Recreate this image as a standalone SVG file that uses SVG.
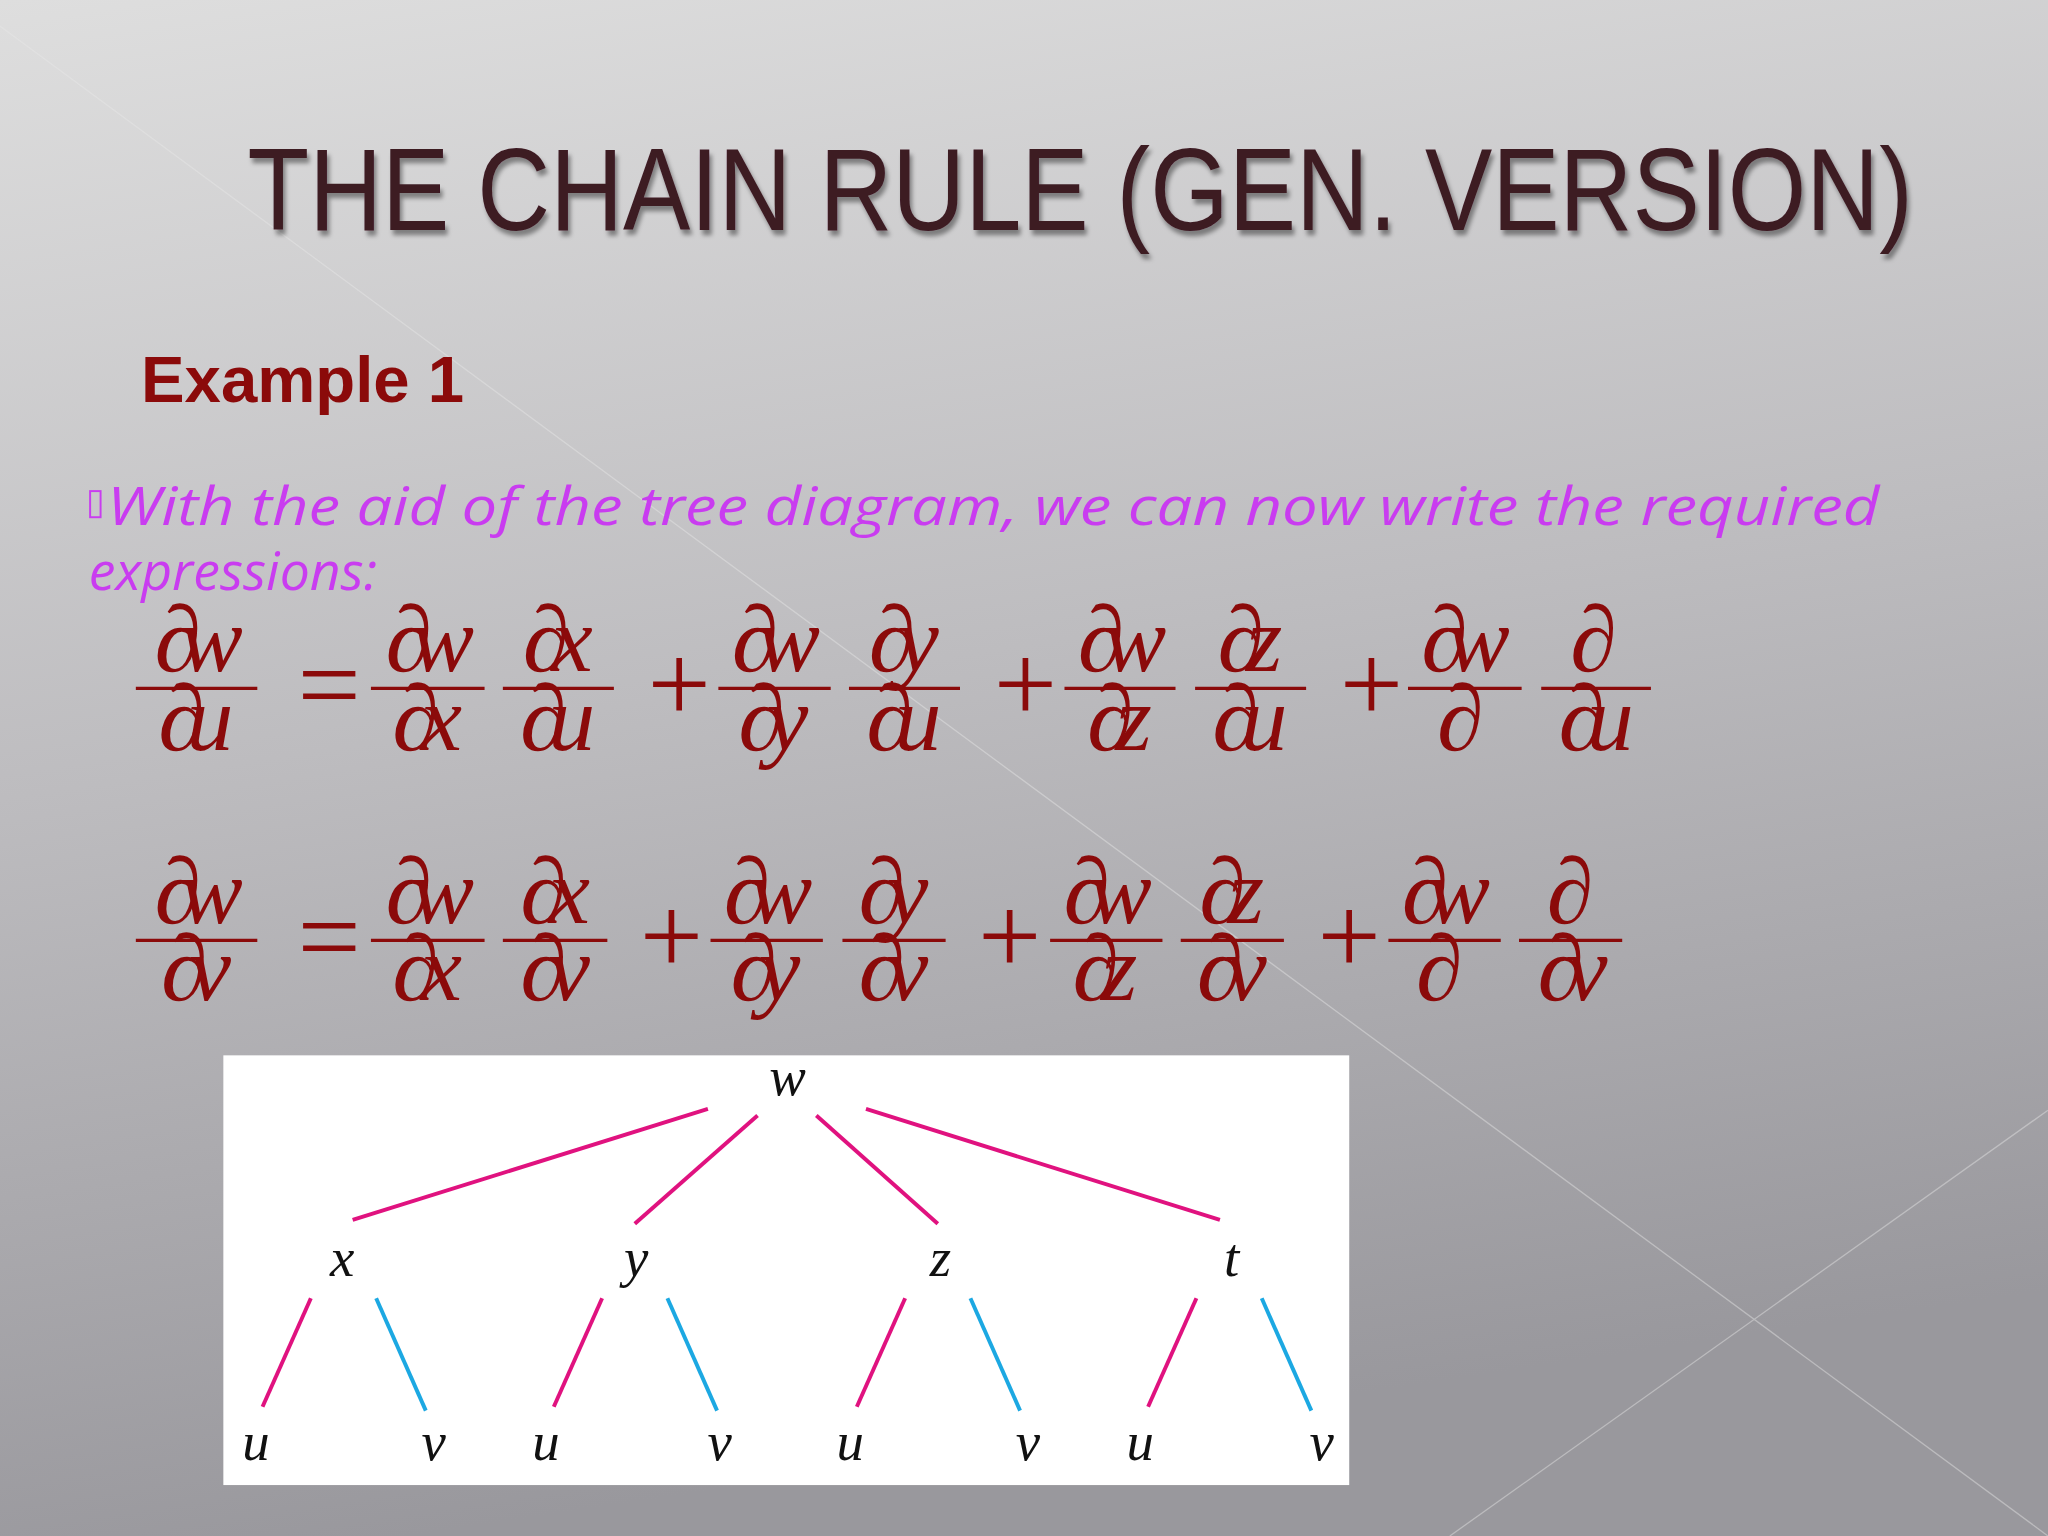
<svg xmlns="http://www.w3.org/2000/svg" width="2048" height="1536" viewBox="0 0 2048 1536">
<defs>
<linearGradient id="bg" x1="0" y1="0" x2="0.2" y2="1">
<stop offset="0" stop-color="#dedede"/><stop offset="0.5" stop-color="#bdbcbf"/><stop offset="1" stop-color="#99989d"/>
</linearGradient>
<filter id="sh" x="-5%" y="-20%" width="110%" height="150%"><feDropShadow dx="2" dy="4" stdDeviation="1.5" flood-color="#000" flood-opacity="0.4"/></filter>
</defs>
<style>
.eq{font-family:"Liberation Serif",serif;font-style:italic;font-size:72px;fill:#8b0a0a;text-anchor:middle}
.op{font-family:"Liberation Serif",serif;font-size:86px;fill:#8b0a0a;text-anchor:middle}
.fl{stroke:#8b0a0a;stroke-width:2.5}
.nd{font-family:"Liberation Serif",serif;font-style:italic;font-size:42px;fill:#111;text-anchor:middle}
.pk{stroke:#e0127f;stroke-width:3}
.bl{stroke:#1ca8e2;stroke-width:3}
</style>
<rect width="2048" height="1536" fill="url(#bg)"/>
<g transform="scale(1.30612)">
<g stroke="#e6e6e6" stroke-width="1" opacity="0.45" fill="none">
<line x1="0" y1="20" x2="1568" y2="1176"/>
<line x1="1110" y1="1176" x2="1568" y2="850"/>
</g>
<g id="title">
<text x="827" y="176" font-family="Liberation Sans,sans-serif" font-size="90" fill="#3d1a24" text-anchor="middle" textLength="1275" lengthAdjust="spacingAndGlyphs" filter="url(#sh)">THE CHAIN RULE (GEN. VERSION)</text>
</g>
<text id="example" x="108" y="308" font-family="Liberation Sans,sans-serif" font-weight="bold" font-size="50" fill="#8b0a0a">Example 1</text>
<g id="body" font-family="Open Sans,sans-serif" font-style="italic" font-size="41" fill="#c93cf0">
<rect x="69" y="376" width="8" height="20" fill="none" stroke="#c93cf0" stroke-width="1.5"/>
<text x="82" y="402" textLength="1357" lengthAdjust="spacingAndGlyphs">With the aid of the tree diagram, we can now write the required</text>
<text x="68" y="452">expressions:</text>
</g>
<g id="eq1">
<g class="fl"><line x1="104" y1="527" x2="197" y2="527"/><line x1="284" y1="527" x2="371" y2="527"/><line x1="385" y1="527" x2="470" y2="527"/><line x1="550" y1="527" x2="636" y2="527"/><line x1="650" y1="527" x2="735" y2="527"/><line x1="815" y1="527" x2="900" y2="527"/><line x1="915" y1="527" x2="1000" y2="527"/><line x1="1078" y1="527" x2="1165" y2="527"/><line x1="1180" y1="527" x2="1264" y2="527"/></g>
<text class="eq" x="152" y="514">∂<tspan dx="-16">w</tspan></text>
<text class="eq" x="150" y="574">∂<tspan dx="-14">u</tspan></text>
<text class="op" x="252" y="553">=</text>
<text class="eq" x="329" y="514">∂<tspan dx="-16">w</tspan></text>
<text class="eq" x="327" y="574">∂<tspan dx="-14">x</tspan></text>
<text class="eq" x="427" y="514">∂<tspan dx="-14">x</tspan></text>
<text class="eq" x="427" y="574">∂<tspan dx="-14">u</tspan></text>
<text class="op" x="520" y="553">+</text>
<text class="eq" x="594" y="514">∂<tspan dx="-16">w</tspan></text>
<text class="eq" x="592" y="574">∂<tspan dx="-14">y</tspan></text>
<text class="eq" x="692" y="514">∂<tspan dx="-14">y</tspan></text>
<text class="eq" x="692" y="574">∂<tspan dx="-14">u</tspan></text>
<text class="op" x="785" y="553">+</text>
<text class="eq" x="859" y="514">∂<tspan dx="-16">w</tspan></text>
<text class="eq" x="857" y="574">∂<tspan dx="-14">z</tspan></text>
<text class="eq" x="957" y="514">∂<tspan dx="-14">z</tspan></text>
<text class="eq" x="957" y="574">∂<tspan dx="-14">u</tspan></text>
<text class="op" x="1050" y="553">+</text>
<text class="eq" x="1122" y="514">∂<tspan dx="-16">w</tspan></text>
<text class="eq" x="1118" y="574">∂</text>
<text class="eq" x="1220" y="514">∂</text>
<text class="eq" x="1222" y="574">∂<tspan dx="-14">u</tspan></text>
</g>
<g id="eq2">
<g class="fl"><line x1="104" y1="720" x2="197" y2="720"/><line x1="284" y1="720" x2="371" y2="720"/><line x1="385" y1="720" x2="465" y2="720"/><line x1="544" y1="720" x2="630" y2="720"/><line x1="645" y1="720" x2="724" y2="720"/><line x1="804" y1="720" x2="890" y2="720"/><line x1="904" y1="720" x2="983" y2="720"/><line x1="1063" y1="720" x2="1149" y2="720"/><line x1="1163" y1="720" x2="1242" y2="720"/></g>
<text class="eq" x="152" y="707">∂<tspan dx="-16">w</tspan></text>
<text class="eq" x="150" y="766">∂<tspan dx="-14">v</tspan></text>
<text class="op" x="252" y="746">=</text>
<text class="eq" x="329" y="707">∂<tspan dx="-16">w</tspan></text>
<text class="eq" x="327" y="766">∂<tspan dx="-14">x</tspan></text>
<text class="eq" x="425" y="707">∂<tspan dx="-14">x</tspan></text>
<text class="eq" x="425" y="766">∂<tspan dx="-14">v</tspan></text>
<text class="op" x="514" y="746">+</text>
<text class="eq" x="588" y="707">∂<tspan dx="-16">w</tspan></text>
<text class="eq" x="586" y="766">∂<tspan dx="-14">y</tspan></text>
<text class="eq" x="684" y="707">∂<tspan dx="-14">y</tspan></text>
<text class="eq" x="684" y="766">∂<tspan dx="-14">v</tspan></text>
<text class="op" x="773" y="746">+</text>
<text class="eq" x="848" y="707">∂<tspan dx="-16">w</tspan></text>
<text class="eq" x="846" y="766">∂<tspan dx="-14">z</tspan></text>
<text class="eq" x="943" y="707">∂<tspan dx="-14">z</tspan></text>
<text class="eq" x="943" y="766">∂<tspan dx="-14">v</tspan></text>
<text class="op" x="1033" y="746">+</text>
<text class="eq" x="1107" y="707">∂<tspan dx="-16">w</tspan></text>
<text class="eq" x="1102" y="766">∂</text>
<text class="eq" x="1202" y="707">∂</text>
<text class="eq" x="1204" y="766">∂<tspan dx="-14">v</tspan></text>
</g>
<rect x="171" y="808" width="862" height="329" fill="#fff"/>
<g id="connectors">
<line class="pk" x1="542" y1="849" x2="270" y2="934"/>
<line class="pk" x1="580" y1="854" x2="486" y2="937"/>
<line class="pk" x1="625" y1="854" x2="718" y2="937"/>
<line class="pk" x1="663" y1="849" x2="934" y2="934"/>
<line class="pk" x1="238" y1="994" x2="201" y2="1077"/><line class="bl" x1="288" y1="994" x2="326" y2="1080"/>
<line class="pk" x1="461" y1="994" x2="424" y2="1077"/><line class="bl" x1="511" y1="994" x2="549" y2="1080"/>
<line class="pk" x1="693" y1="994" x2="656" y2="1077"/><line class="bl" x1="743" y1="994" x2="781" y2="1080"/>
<line class="pk" x1="916" y1="994" x2="879" y2="1077"/><line class="bl" x1="966" y1="994" x2="1004" y2="1080"/>
</g>
<g id="n-w"><text class="nd" x="603" y="838">w</text></g>
<g id="n-x"><text class="nd" x="262" y="977">x</text></g>
<g id="n-y"><text class="nd" x="487" y="977">y</text></g>
<g id="n-z"><text class="nd" x="720" y="977">z</text></g>
<g id="n-t"><text class="nd" x="943" y="977">t</text></g>
<g id="l1"><text class="nd" x="196" y="1118">u</text></g>
<g id="l2"><text class="nd" x="332" y="1118">v</text></g>
<g id="l3"><text class="nd" x="418" y="1118">u</text></g>
<g id="l4"><text class="nd" x="551" y="1118">v</text></g>
<g id="l5"><text class="nd" x="651" y="1118">u</text></g>
<g id="l6"><text class="nd" x="787" y="1118">v</text></g>
<g id="l7"><text class="nd" x="873" y="1118">u</text></g>
<g id="l8"><text class="nd" x="1012" y="1118">v</text></g>
</g>
</svg>
